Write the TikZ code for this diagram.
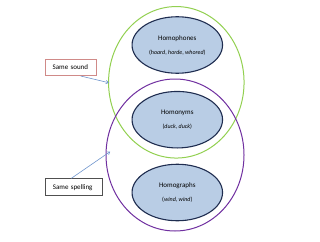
\documentclass[tikz,border=0pt]{standalone}
\usepackage{fontspec}
\setmainfont{Carlito}
\usetikzlibrary{shapes.geometric,arrows.meta}
\definecolor{fillblue}{HTML}{B9CDE5}
\definecolor{navy}{HTML}{1F2D50}
\definecolor{vgreen}{HTML}{92D050}
\definecolor{vpurple}{HTML}{7030A0}
\definecolor{arrowblue}{HTML}{6F95CD}
\definecolor{redbox}{HTML}{D08A88}
\definecolor{graybox}{HTML}{505050}
\tikzset{
  x=1pt, y=-1pt,
  wordset/.style={draw=navy, line width=1.1pt, fill=fillblue, ellipse, minimum width=90.5pt, minimum height=56.5pt, inner sep=0pt, align=center, font=\fontsize{7}{9}\selectfont},
  bigset/.style={ellipse, line width=1pt, inner sep=0pt},
  labelbox/.style={draw, line width=0.7pt, anchor=north west, inner sep=0pt, font=\fontsize{7}{8}\selectfont, text height=5pt, text depth=1pt},
  pointer/.style={draw=arrowblue, line width=0.6pt, -{To[length=3pt,width=4pt]}}
}
\begin{document}
\begin{tikzpicture}
\useasboundingbox (0,0) rectangle (320,241);
\node[bigset, draw=vgreen, minimum width=135.5pt, minimum height=151.5pt] (green) at (176.3,82.3) {};
\node[bigset, draw=vpurple, minimum width=138pt, minimum height=152pt] (purple) at (175,155) {};
\node[wordset] (phones) at (177.3,45) {Homophones\\[5pt]{\fontsize{6}{8}\selectfont(\textit{hoard}, \textit{horde}, \textit{whored})}};
\node[wordset] (nyms) at (177.3,119.7) {Homonyms\\[5pt]{\fontsize{6}{8}\selectfont(\textit{duck}, \textit{duck})}};
\node[wordset] (graphs) at (177.3,192.5) {Homographs\\[5pt]{\fontsize{6}{8}\selectfont(\textit{wind}, \textit{wind})}};
\node[labelbox, draw=redbox, minimum width=51pt, minimum height=16.3pt, text width=45pt] (sound) at (45.3,59) {\hspace*{4pt}Same sound};
\node[labelbox, draw=graybox, minimum width=56.4pt, minimum height=16.7pt, text width=50pt] (spell) at (45.3,178.3) {\hspace*{4pt}Same spelling};
\coordinate (soundend) at (108.7,82.7);
\coordinate (spellend) at (110,151.7);
\draw[pointer] ([xshift=9.5pt]sound.south) -- (soundend);
\draw[pointer] ([xshift=-2.5pt]spell.north) -- (spellend);
\end{tikzpicture}
\end{document}
